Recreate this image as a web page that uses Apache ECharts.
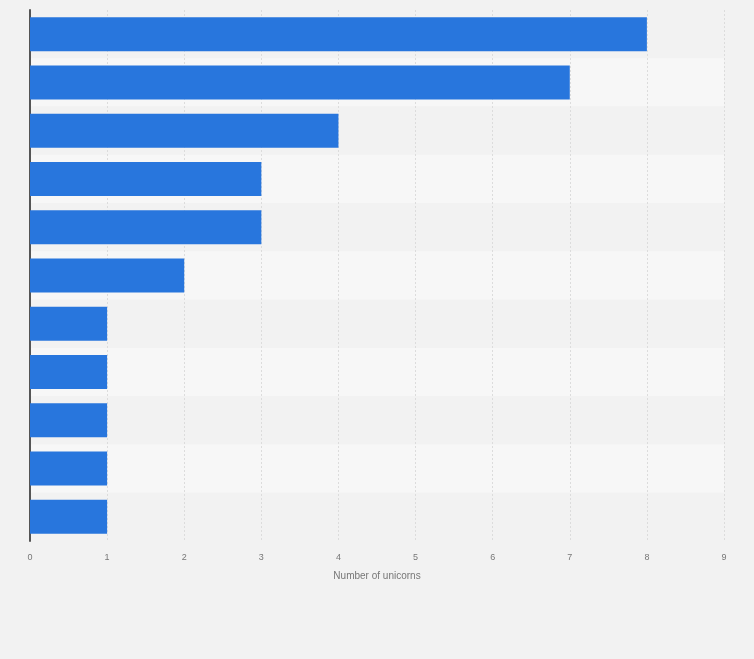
<!DOCTYPE html>
<html>
<head>
<meta charset="utf-8">
<script src="https://cdn.jsdelivr.net/npm/echarts@6/dist/echarts.min.js"></script>
<style>
  html, body { margin: 0; padding: 0; background: #f2f2f2; }
  #chart { width: 754px; height: 659px; }
</style>
</head>
<body>
<div id="chart"></div>
<script>
// categories are not labelled in the picture
var categories = ['A', 'B', 'C', 'D', 'E', 'F', 'G', 'H', 'I', 'J', 'K'];
var unicorns = [8, 7, 4, 3, 3, 2, 1, 1, 1, 1, 1];
var xTicks = [0, 9, 1]; // min, max, interval

var myChart = echarts.init(document.getElementById('chart'));

var option = {
    backgroundColor: '#f2f2f2',
    animation: false,
    grid: { left: 30, right: 30, top: 10, bottom: 118 },
    xAxis: {
        type: 'value',
        min: xTicks[0],
        max: xTicks[1],
        interval: xTicks[2],
        name: 'Number of unicorns',
        nameLocation: 'middle',
        nameGap: 30,
        nameTextStyle: { color: '#777', fontSize: 10, fontFamily: 'Liberation Sans' },
        axisLine: { show: false },
        axisTick: { show: false },
        axisLabel: { color: '#777', fontSize: 9, margin: 12, fontFamily: 'Liberation Sans' },
        splitLine: { show: true, lineStyle: { color: '#dcdcdc', type: [2, 2] } }
    },
    yAxis: {
        type: 'category',
        data: categories,
        inverse: true,
        axisLine: { show: true, lineStyle: { color: '#555', width: 2 } },
        axisTick: { show: false },
        axisLabel: { show: false },
        splitArea: { show: true, areaStyle: { color: ['#f2f2f2', '#f7f7f7'] } }
    },
    series: [{
        type: 'bar',
        data: unicorns,
        barWidth: 34,
        itemStyle: { color: '#2876dd' }
    }]
};

myChart.setOption(option);
</script>
</body>
</html>
